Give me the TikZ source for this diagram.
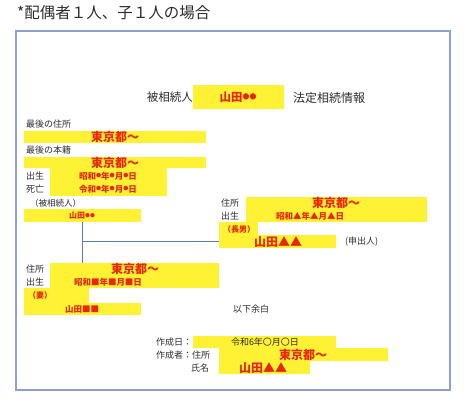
\documentclass[tikz,border=0pt]{standalone}
\usepackage{fontspec}
\newfontfamily\cjk{Noto Sans CJK JP}
\definecolor{hlyellow}{RGB}{255,241,52}
\definecolor{hlred}{RGB}{232,40,12}
\definecolor{txtgray}{RGB}{45,45,45}
\definecolor{framecol}{RGB}{140,160,210}
\definecolor{linkcol}{RGB}{90,125,180}
\newcommand{\sdot}{\raisebox{0.18em}{\scalebox{0.6}{●}}}
\tikzset{
  ybox/.style={fill=hlyellow, inner sep=0pt, outer sep=0pt},
  lbl/.style={anchor=west, inner sep=0pt, text=txtgray, font=\cjk\fontsize{9}{9}\selectfont},
  bigred/.style={inner sep=0pt, text=hlred, font=\cjk\bfseries\fontsize{12}{12}\selectfont},
  datered/.style={inner sep=0pt, text=hlred, font=\cjk\bfseries\fontsize{8.5}{8.5}\selectfont},
  smallred/.style={inner sep=0pt, text=hlred, font=\cjk\bfseries\fontsize{8.5}{8.5}\selectfont},
  link/.style={draw=linkcol, line width=0.9pt},
}
\begin{document}
\begin{tikzpicture}[x=1pt,y=-1pt]
\useasboundingbox (0,0) rectangle (474,402);

% title and frame
\node[lbl, font=\cjk\fontsize{15.5}{15.5}\selectfont] (title) at (17,13) {*配偶者１人、子１人の場合};
\draw[framecol, line width=1.3pt] (16,31) rectangle (450,390);

% heading
\node[ybox, minimum width=91, minimum height=24] (head) at (238.5,97) {};
\node[datered, font=\cjk\bfseries\fontsize{11.5}{11.5}\selectfont] (headname) at (238,97.5) {山田\sdot\sdot};
\node[lbl, anchor=east, font=\cjk\fontsize{11.5}{11.5}\selectfont] (headl) at (head.west) {被相続人};
\node[lbl, font=\cjk\fontsize{12}{12}\selectfont] (headr) at (293,98) {法定相続情報};

% deceased
\node[lbl] (lastaddrl) at (26,124) {最後の住所};
\node[ybox, minimum width=182, minimum height=12] (lastaddr) at (115,137) {};
\node[bigred] (lastaddrt) at (115,137) {東京都〜};
\node[lbl] (lastregl) at (26,150) {最後の本籍};
\node[ybox, minimum width=182, minimum height=11] (lastreg) at (115,162.5) {};
\node[bigred] (lastregt) at (115,162.5) {東京都〜};
\node[ybox, minimum width=117, minimum height=28] (dcdates) at (108.5,182) {};
\node[lbl] (dcbirthl) at (26,176) {出生};
\node[lbl] (dcdeathl) at (26,189) {死亡};
\node[smallred] (dcbirth) at (108,176) {昭和\sdot 年\sdot 月\sdot 日};
\node[smallred] (dcdeath) at (108,189) {令和\sdot 年\sdot 月\sdot 日};
\node[lbl, font=\cjk\fontsize{8.5}{8.5}\selectfont] (dcrole) at (30,203) {（被相続人）};
\node[ybox, minimum width=117, minimum height=13] (dcname) at (82.5,215.5) {};
\node[smallred, font=\cjk\bfseries\fontsize{8}{8}\selectfont] (dcnamet) at (82,216) {山田\sdot\sdot};

% son
\node[lbl] (sonaddrl) at (221,203) {住所};
\node[lbl] (sonbirthl) at (221,216) {出生};
\node[ybox, minimum width=181, minimum height=25] (soninfo) at (336.5,209.5) {};
\node[bigred] (sonaddr) at (336,203) {東京都〜};
\node[datered] (sonbirth) at (310,216) {昭和▲年▲月▲日};
\node[ybox, minimum width=39, minimum height=13] (sonrole) at (238.5,228.5) {};
\node[datered, font=\cjk\bfseries\fontsize{8}{8}\selectfont] (sonrolet) at (239,229) {（長男）};
\node[ybox, minimum width=117, minimum height=13] (sonname) at (277.5,241.5) {};
\node[bigred] (sonnamet) at (278,242) {山田▲▲};
\node[lbl] (applicant) at (345,242) {(申出人)};

% spouse
\node[lbl] (spaddrl) at (26,269) {住所};
\node[lbl] (spbirthl) at (26,282) {出生};
\node[ybox, minimum width=169, minimum height=25] (spinfo) at (134.5,275.5) {};
\node[bigred] (spaddr) at (135,269) {東京都〜};
\node[datered] (spbirth) at (108,282) {昭和■年■月■日};
\node[ybox, minimum width=65, minimum height=15] (sprole) at (56.5,295.5) {};
\node[datered, font=\cjk\bfseries\fontsize{8}{8}\selectfont] (sprolet) at (40,295) {（妻）};
\node[ybox, minimum width=117, minimum height=12] (spname) at (82.5,309) {};
\node[datered] (spnamet) at (82,309) {山田■■};
\node[lbl] (blank) at (233,309) {以下余白};

% connectors
\coordinate (fork) at (dcname.south |- sonname.west);
\draw[link] (dcname.south) -- (dcname.south |- spinfo.north);
\draw[link] (fork) -- (sonname.west);

% author
\node[lbl] (datel) at (156,342) {作成日：};
\node[ybox, minimum width=143, minimum height=12] (date) at (264.5,342) {};
\node[lbl, anchor=center] (datet) at (265,342) {令和6年〇月〇日};
\node[lbl] (authaddrl) at (156,355) {作成者：住所};
\node[ybox, minimum width=169, minimum height=13] (authaddr) at (303.5,354.5) {};
\node[bigred] (authaddrt) at (303,355) {東京都〜};
\node[lbl] (authnamel) at (191,368) {氏名};
\node[ybox, minimum width=91, minimum height=13] (authname) at (264.5,367.5) {};
\node[bigred] (authnamet) at (263,368) {山田▲▲};
\end{tikzpicture}
\end{document}
